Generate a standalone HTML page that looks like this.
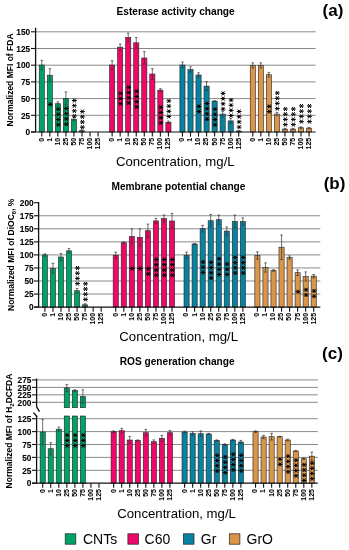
<!DOCTYPE html>
<html><head><meta charset="utf-8"><title>chart</title>
<style>html,body{margin:0;padding:0;background:#fff;width:349px;height:550px;overflow:hidden;font-family:"Liberation Sans", sans-serif;}svg{display:block;will-change:transform}</style>
</head><body>
<svg width="349" height="550" viewBox="0 0 349 550" font-family='"Liberation Sans", sans-serif'><rect x="0" y="0" width="349" height="550" fill="#fff"/>
<line x1="35.6" y1="115.3" x2="315.6" y2="115.3" stroke="#8a8a8a" stroke-width="1"/>
<line x1="35.6" y1="98.6" x2="315.6" y2="98.6" stroke="#8a8a8a" stroke-width="1"/>
<line x1="35.6" y1="81.9" x2="315.6" y2="81.9" stroke="#8a8a8a" stroke-width="1"/>
<line x1="35.6" y1="65.2" x2="315.6" y2="65.2" stroke="#8a8a8a" stroke-width="1"/>
<line x1="35.6" y1="48.5" x2="315.6" y2="48.5" stroke="#8a8a8a" stroke-width="1"/>
<line x1="35.6" y1="31.8" x2="315.6" y2="31.8" stroke="#8a8a8a" stroke-width="1"/>
<rect x="39.22" y="65" width="5.15" height="67" fill="#00a266" stroke="#222" stroke-width="0.6"/>
<path d="M41.8 60.3V69.7M40.5 60.3H43.1M40.5 69.7H43.1" stroke="#333" stroke-width="0.7" fill="none"/>
<rect x="47.26" y="75.2" width="5.15" height="56.8" fill="#00a266" stroke="#222" stroke-width="0.6"/>
<path d="M49.84 68.7V81.7M48.54 68.7H51.14M48.54 81.7H51.14" stroke="#333" stroke-width="0.7" fill="none"/>
<rect x="55.3" y="103.7" width="5.15" height="28.3" fill="#00a266" stroke="#222" stroke-width="0.6"/>
<path d="M57.88 101.8V105.6M56.58 101.8H59.18M56.58 105.6H59.18" stroke="#333" stroke-width="0.7" fill="none"/>
<rect x="63.34" y="98.3" width="5.15" height="33.7" fill="#00a266" stroke="#222" stroke-width="0.6"/>
<path d="M65.92 91.9V104.7M64.62 91.9H67.22M64.62 104.7H67.22" stroke="#333" stroke-width="0.7" fill="none"/>
<rect x="71.38" y="119.2" width="5.15" height="12.8" fill="#00a266" stroke="#222" stroke-width="0.6"/>
<path d="M73.96 117.7V120.7M72.66 117.7H75.26M72.66 120.7H75.26" stroke="#333" stroke-width="0.7" fill="none"/>
<rect x="79.42" y="130.7" width="5.15" height="1.3" fill="#00a266" stroke="#222" stroke-width="0.6"/>
<path d="M82 129.8V131.6M80.7 129.8H83.3M80.7 131.6H83.3" stroke="#333" stroke-width="0.7" fill="none"/>
<rect x="109.55" y="65" width="5.15" height="67" fill="#ee0868" stroke="#222" stroke-width="0.6"/>
<path d="M112.13 60.7V69.3M110.83 60.7H113.43M110.83 69.3H113.43" stroke="#333" stroke-width="0.7" fill="none"/>
<rect x="117.59" y="47.2" width="5.15" height="84.8" fill="#ee0868" stroke="#222" stroke-width="0.6"/>
<path d="M120.17 44V50.4M118.87 44H121.47M118.87 50.4H121.47" stroke="#333" stroke-width="0.7" fill="none"/>
<rect x="125.63" y="37.4" width="5.15" height="94.6" fill="#ee0868" stroke="#222" stroke-width="0.6"/>
<path d="M128.21 33.1V41.7M126.91 33.1H129.51M126.91 41.7H129.51" stroke="#333" stroke-width="0.7" fill="none"/>
<rect x="133.68" y="42.8" width="5.15" height="89.2" fill="#ee0868" stroke="#222" stroke-width="0.6"/>
<path d="M136.25 37.5V48.1M134.95 37.5H137.55M134.95 48.1H137.55" stroke="#333" stroke-width="0.7" fill="none"/>
<rect x="141.72" y="58" width="5.15" height="74" fill="#ee0868" stroke="#222" stroke-width="0.6"/>
<path d="M144.29 51.7V64.3M142.99 51.7H145.59M142.99 64.3H145.59" stroke="#333" stroke-width="0.7" fill="none"/>
<rect x="149.75" y="74" width="5.15" height="58" fill="#ee0868" stroke="#222" stroke-width="0.6"/>
<path d="M152.33 68.7V79.3M151.03 68.7H153.63M151.03 79.3H153.63" stroke="#333" stroke-width="0.7" fill="none"/>
<rect x="157.8" y="90.1" width="5.15" height="41.9" fill="#ee0868" stroke="#222" stroke-width="0.6"/>
<path d="M160.37 88.7V91.5M159.07 88.7H161.67M159.07 91.5H161.67" stroke="#333" stroke-width="0.7" fill="none"/>
<rect x="165.84" y="122.2" width="5.15" height="9.8" fill="#ee0868" stroke="#222" stroke-width="0.6"/>
<path d="M168.41 121.1V123.3M167.11 121.1H169.71M167.11 123.3H169.71" stroke="#333" stroke-width="0.7" fill="none"/>
<rect x="179.88" y="65" width="5.15" height="67" fill="#0782a0" stroke="#222" stroke-width="0.6"/>
<path d="M182.46 62V68M181.16 62H183.76M181.16 68H183.76" stroke="#333" stroke-width="0.7" fill="none"/>
<rect x="187.92" y="69.4" width="5.15" height="62.6" fill="#0782a0" stroke="#222" stroke-width="0.6"/>
<path d="M190.5 66.8V72M189.2 66.8H191.8M189.2 72H191.8" stroke="#333" stroke-width="0.7" fill="none"/>
<rect x="195.96" y="75" width="5.15" height="57" fill="#0782a0" stroke="#222" stroke-width="0.6"/>
<path d="M198.54 72.8V77.2M197.24 72.8H199.84M197.24 77.2H199.84" stroke="#333" stroke-width="0.7" fill="none"/>
<rect x="204" y="86.1" width="5.15" height="45.9" fill="#0782a0" stroke="#222" stroke-width="0.6"/>
<path d="M206.58 81.7V90.5M205.28 81.7H207.88M205.28 90.5H207.88" stroke="#333" stroke-width="0.7" fill="none"/>
<rect x="212.04" y="101.1" width="5.15" height="30.9" fill="#0782a0" stroke="#222" stroke-width="0.6"/>
<path d="M214.62 100.9V101.3M213.32 100.9H215.92M213.32 101.3H215.92" stroke="#333" stroke-width="0.7" fill="none"/>
<rect x="220.08" y="114.1" width="5.15" height="17.9" fill="#0782a0" stroke="#222" stroke-width="0.6"/>
<path d="M222.66 111.4V116.8M221.36 111.4H223.96M221.36 116.8H223.96" stroke="#333" stroke-width="0.7" fill="none"/>
<rect x="228.12" y="120.9" width="5.15" height="11.1" fill="#0782a0" stroke="#222" stroke-width="0.6"/>
<path d="M230.7 118.4V123.4M229.4 118.4H232M229.4 123.4H232" stroke="#333" stroke-width="0.7" fill="none"/>
<rect x="236.16" y="131" width="5.15" height="1" fill="#0782a0" stroke="#222" stroke-width="0.6"/>
<path d="M238.74 130.4V131.6M237.44 130.4H240.04M237.44 131.6H240.04" stroke="#333" stroke-width="0.7" fill="none"/>
<rect x="250.22" y="65.4" width="5.15" height="66.6" fill="#da964a" stroke="#222" stroke-width="0.6"/>
<path d="M252.79 62.8V68M251.49 62.8H254.09M251.49 68H254.09" stroke="#333" stroke-width="0.7" fill="none"/>
<rect x="258.26" y="65.4" width="5.15" height="66.6" fill="#da964a" stroke="#222" stroke-width="0.6"/>
<path d="M260.83 62.8V68M259.53 62.8H262.13M259.53 68H262.13" stroke="#333" stroke-width="0.7" fill="none"/>
<rect x="266.3" y="74.7" width="5.15" height="57.3" fill="#da964a" stroke="#222" stroke-width="0.6"/>
<path d="M268.87 72.4V77M267.57 72.4H270.17M267.57 77H270.17" stroke="#333" stroke-width="0.7" fill="none"/>
<rect x="274.34" y="114.1" width="5.15" height="17.9" fill="#da964a" stroke="#222" stroke-width="0.6"/>
<path d="M276.91 112.4V115.8M275.61 112.4H278.21M275.61 115.8H278.21" stroke="#333" stroke-width="0.7" fill="none"/>
<rect x="282.38" y="129.1" width="5.15" height="2.9" fill="#da964a" stroke="#222" stroke-width="0.6"/>
<path d="M284.95 128.4V129.8M283.65 128.4H286.25M283.65 129.8H286.25" stroke="#333" stroke-width="0.7" fill="none"/>
<rect x="290.42" y="129.1" width="5.15" height="2.9" fill="#da964a" stroke="#222" stroke-width="0.6"/>
<path d="M292.99 128.4V129.8M291.69 128.4H294.29M291.69 129.8H294.29" stroke="#333" stroke-width="0.7" fill="none"/>
<rect x="298.46" y="127.7" width="5.15" height="4.3" fill="#da964a" stroke="#222" stroke-width="0.6"/>
<path d="M301.03 126.9V128.5M299.73 126.9H302.33M299.73 128.5H302.33" stroke="#333" stroke-width="0.7" fill="none"/>
<rect x="306.5" y="128.1" width="5.15" height="3.9" fill="#da964a" stroke="#222" stroke-width="0.6"/>
<path d="M309.07 127.4V128.8M307.77 127.4H310.37M307.77 128.8H310.37" stroke="#333" stroke-width="0.7" fill="none"/>
<path d="M47.84 104.3H52.64M48.94 102.3L51.54 106.3M48.94 106.3L51.54 102.3" stroke="#000" stroke-width="1.0" fill="none"/>
<path d="M55.88 124.7H60.68M56.98 122.7L59.58 126.7M56.98 126.7L59.58 122.7" stroke="#000" stroke-width="1.0" fill="none"/>
<path d="M55.88 119.5H60.68M56.98 117.5L59.58 121.5M56.98 121.5L59.58 117.5" stroke="#000" stroke-width="1.0" fill="none"/>
<path d="M55.88 114.3H60.68M56.98 112.3L59.58 116.3M56.98 116.3L59.58 112.3" stroke="#000" stroke-width="1.0" fill="none"/>
<path d="M55.88 109.1H60.68M56.98 107.1L59.58 111.1M56.98 111.1L59.58 107.1" stroke="#000" stroke-width="1.0" fill="none"/>
<path d="M63.92 124.1H68.72M65.02 122.1L67.62 126.1M65.02 126.1L67.62 122.1" stroke="#000" stroke-width="1.0" fill="none"/>
<path d="M63.92 118.9H68.72M65.02 116.9L67.62 120.9M65.02 120.9L67.62 116.9" stroke="#000" stroke-width="1.0" fill="none"/>
<path d="M63.92 113.7H68.72M65.02 111.7L67.62 115.7M65.02 115.7L67.62 111.7" stroke="#000" stroke-width="1.0" fill="none"/>
<path d="M63.92 108.5H68.72M65.02 106.5L67.62 110.5M65.02 110.5L67.62 106.5" stroke="#000" stroke-width="1.0" fill="none"/>
<path d="M71.96 116.1H76.76M73.06 114.1L75.66 118.1M73.06 118.1L75.66 114.1" stroke="#000" stroke-width="1.0" fill="none"/>
<path d="M71.96 110.9H76.76M73.06 108.9L75.66 112.9M73.06 112.9L75.66 108.9" stroke="#000" stroke-width="1.0" fill="none"/>
<path d="M71.96 105.7H76.76M73.06 103.7L75.66 107.7M73.06 107.7L75.66 103.7" stroke="#000" stroke-width="1.0" fill="none"/>
<path d="M71.96 100.5H76.76M73.06 98.5L75.66 102.5M73.06 102.5L75.66 98.5" stroke="#000" stroke-width="1.0" fill="none"/>
<path d="M80 127.2H84.8M81.1 125.2L83.7 129.2M81.1 129.2L83.7 125.2" stroke="#000" stroke-width="1.0" fill="none"/>
<path d="M80 122H84.8M81.1 120L83.7 124M81.1 124L83.7 120" stroke="#000" stroke-width="1.0" fill="none"/>
<path d="M80 116.8H84.8M81.1 114.8L83.7 118.8M81.1 118.8L83.7 114.8" stroke="#000" stroke-width="1.0" fill="none"/>
<path d="M80 111.6H84.8M81.1 109.6L83.7 113.6M81.1 113.6L83.7 109.6" stroke="#000" stroke-width="1.0" fill="none"/>
<path d="M118.17 103.8H122.97M119.27 101.8L121.87 105.8M119.27 105.8L121.87 101.8" stroke="#000" stroke-width="1.0" fill="none"/>
<path d="M118.17 98.6H122.97M119.27 96.6L121.87 100.6M119.27 100.6L121.87 96.6" stroke="#000" stroke-width="1.0" fill="none"/>
<path d="M118.17 93.4H122.97M119.27 91.4L121.87 95.4M119.27 95.4L121.87 91.4" stroke="#000" stroke-width="1.0" fill="none"/>
<path d="M126.21 102.9H131.01M127.31 100.9L129.91 104.9M127.31 104.9L129.91 100.9" stroke="#000" stroke-width="1.0" fill="none"/>
<path d="M126.21 97.7H131.01M127.31 95.7L129.91 99.7M127.31 99.7L129.91 95.7" stroke="#000" stroke-width="1.0" fill="none"/>
<path d="M126.21 92.5H131.01M127.31 90.5L129.91 94.5M127.31 94.5L129.91 90.5" stroke="#000" stroke-width="1.0" fill="none"/>
<path d="M126.21 87.3H131.01M127.31 85.3L129.91 89.3M127.31 89.3L129.91 85.3" stroke="#000" stroke-width="1.0" fill="none"/>
<path d="M134.25 106.9H139.05M135.35 104.9L137.95 108.9M135.35 108.9L137.95 104.9" stroke="#000" stroke-width="1.0" fill="none"/>
<path d="M134.25 101.7H139.05M135.35 99.7L137.95 103.7M135.35 103.7L137.95 99.7" stroke="#000" stroke-width="1.0" fill="none"/>
<path d="M134.25 96.5H139.05M135.35 94.5L137.95 98.5M135.35 98.5L137.95 94.5" stroke="#000" stroke-width="1.0" fill="none"/>
<path d="M134.25 91.3H139.05M135.35 89.3L137.95 93.3M135.35 93.3L137.95 89.3" stroke="#000" stroke-width="1.0" fill="none"/>
<path d="M158.37 122.9H163.17M159.47 120.9L162.07 124.9M159.47 124.9L162.07 120.9" stroke="#000" stroke-width="1.0" fill="none"/>
<path d="M158.37 117.7H163.17M159.47 115.7L162.07 119.7M159.47 119.7L162.07 115.7" stroke="#000" stroke-width="1.0" fill="none"/>
<path d="M158.37 112.5H163.17M159.47 110.5L162.07 114.5M159.47 114.5L162.07 110.5" stroke="#000" stroke-width="1.0" fill="none"/>
<path d="M158.37 107.3H163.17M159.47 105.3L162.07 109.3M159.47 109.3L162.07 105.3" stroke="#000" stroke-width="1.0" fill="none"/>
<path d="M166.41 116.5H171.21M167.51 114.5L170.11 118.5M167.51 118.5L170.11 114.5" stroke="#000" stroke-width="1.0" fill="none"/>
<path d="M166.41 111.3H171.21M167.51 109.3L170.11 113.3M167.51 113.3L170.11 109.3" stroke="#000" stroke-width="1.0" fill="none"/>
<path d="M166.41 106.1H171.21M167.51 104.1L170.11 108.1M167.51 108.1L170.11 104.1" stroke="#000" stroke-width="1.0" fill="none"/>
<path d="M166.41 100.9H171.21M167.51 98.9L170.11 102.9M167.51 102.9L170.11 98.9" stroke="#000" stroke-width="1.0" fill="none"/>
<path d="M196.54 111.6H201.34M197.64 109.6L200.24 113.6M197.64 113.6L200.24 109.6" stroke="#000" stroke-width="1.0" fill="none"/>
<path d="M196.54 106.4H201.34M197.64 104.4L200.24 108.4M197.64 108.4L200.24 104.4" stroke="#000" stroke-width="1.0" fill="none"/>
<path d="M204.58 119.1H209.38M205.68 117.1L208.28 121.1M205.68 121.1L208.28 117.1" stroke="#000" stroke-width="1.0" fill="none"/>
<path d="M204.58 113.9H209.38M205.68 111.9L208.28 115.9M205.68 115.9L208.28 111.9" stroke="#000" stroke-width="1.0" fill="none"/>
<path d="M204.58 108.7H209.38M205.68 106.7L208.28 110.7M205.68 110.7L208.28 106.7" stroke="#000" stroke-width="1.0" fill="none"/>
<path d="M204.58 103.5H209.38M205.68 101.5L208.28 105.5M205.68 105.5L208.28 101.5" stroke="#000" stroke-width="1.0" fill="none"/>
<path d="M212.62 124.8H217.42M213.72 122.8L216.32 126.8M213.72 126.8L216.32 122.8" stroke="#000" stroke-width="1.0" fill="none"/>
<path d="M212.62 119.6H217.42M213.72 117.6L216.32 121.6M213.72 121.6L216.32 117.6" stroke="#000" stroke-width="1.0" fill="none"/>
<path d="M212.62 114.4H217.42M213.72 112.4L216.32 116.4M213.72 116.4L216.32 112.4" stroke="#000" stroke-width="1.0" fill="none"/>
<path d="M212.62 109.2H217.42M213.72 107.2L216.32 111.2M213.72 111.2L216.32 107.2" stroke="#000" stroke-width="1.0" fill="none"/>
<path d="M220.66 109H225.46M221.76 107L224.36 111M221.76 111L224.36 107" stroke="#000" stroke-width="1.0" fill="none"/>
<path d="M220.66 103.8H225.46M221.76 101.8L224.36 105.8M221.76 105.8L224.36 101.8" stroke="#000" stroke-width="1.0" fill="none"/>
<path d="M220.66 98.6H225.46M221.76 96.6L224.36 100.6M221.76 100.6L224.36 96.6" stroke="#000" stroke-width="1.0" fill="none"/>
<path d="M220.66 93.4H225.46M221.76 91.4L224.36 95.4M221.76 95.4L224.36 91.4" stroke="#000" stroke-width="1.0" fill="none"/>
<path d="M228.7 115.6H233.5M229.8 113.6L232.4 117.6M229.8 117.6L232.4 113.6" stroke="#000" stroke-width="1.0" fill="none"/>
<path d="M228.7 110.4H233.5M229.8 108.4L232.4 112.4M229.8 112.4L232.4 108.4" stroke="#000" stroke-width="1.0" fill="none"/>
<path d="M228.7 105.2H233.5M229.8 103.2L232.4 107.2M229.8 107.2L232.4 103.2" stroke="#000" stroke-width="1.0" fill="none"/>
<path d="M228.7 100H233.5M229.8 98L232.4 102M229.8 102L232.4 98" stroke="#000" stroke-width="1.0" fill="none"/>
<path d="M236.74 127.1H241.54M237.84 125.1L240.44 129.1M237.84 129.1L240.44 125.1" stroke="#000" stroke-width="1.0" fill="none"/>
<path d="M236.74 121.9H241.54M237.84 119.9L240.44 123.9M237.84 123.9L240.44 119.9" stroke="#000" stroke-width="1.0" fill="none"/>
<path d="M236.74 116.7H241.54M237.84 114.7L240.44 118.7M237.84 118.7L240.44 114.7" stroke="#000" stroke-width="1.0" fill="none"/>
<path d="M236.74 111.5H241.54M237.84 109.5L240.44 113.5M237.84 113.5L240.44 109.5" stroke="#000" stroke-width="1.0" fill="none"/>
<path d="M266.87 111.6H271.67M267.97 109.6L270.57 113.6M267.97 113.6L270.57 109.6" stroke="#000" stroke-width="1.0" fill="none"/>
<path d="M266.87 106.4H271.67M267.97 104.4L270.57 108.4M267.97 108.4L270.57 104.4" stroke="#000" stroke-width="1.0" fill="none"/>
<path d="M274.91 108.6H279.71M276.01 106.6L278.61 110.6M276.01 110.6L278.61 106.6" stroke="#000" stroke-width="1.0" fill="none"/>
<path d="M274.91 103.4H279.71M276.01 101.4L278.61 105.4M276.01 105.4L278.61 101.4" stroke="#000" stroke-width="1.0" fill="none"/>
<path d="M274.91 98.2H279.71M276.01 96.2L278.61 100.2M276.01 100.2L278.61 96.2" stroke="#000" stroke-width="1.0" fill="none"/>
<path d="M274.91 93H279.71M276.01 91L278.61 95M276.01 95L278.61 91" stroke="#000" stroke-width="1.0" fill="none"/>
<path d="M282.95 124.6H287.75M284.05 122.6L286.65 126.6M284.05 126.6L286.65 122.6" stroke="#000" stroke-width="1.0" fill="none"/>
<path d="M282.95 119.4H287.75M284.05 117.4L286.65 121.4M284.05 121.4L286.65 117.4" stroke="#000" stroke-width="1.0" fill="none"/>
<path d="M282.95 114.2H287.75M284.05 112.2L286.65 116.2M284.05 116.2L286.65 112.2" stroke="#000" stroke-width="1.0" fill="none"/>
<path d="M282.95 109H287.75M284.05 107L286.65 111M284.05 111L286.65 107" stroke="#000" stroke-width="1.0" fill="none"/>
<path d="M290.99 124.6H295.79M292.09 122.6L294.69 126.6M292.09 126.6L294.69 122.6" stroke="#000" stroke-width="1.0" fill="none"/>
<path d="M290.99 119.4H295.79M292.09 117.4L294.69 121.4M292.09 121.4L294.69 117.4" stroke="#000" stroke-width="1.0" fill="none"/>
<path d="M290.99 114.2H295.79M292.09 112.2L294.69 116.2M292.09 116.2L294.69 112.2" stroke="#000" stroke-width="1.0" fill="none"/>
<path d="M290.99 109H295.79M292.09 107L294.69 111M292.09 111L294.69 107" stroke="#000" stroke-width="1.0" fill="none"/>
<path d="M299.03 121.6H303.83M300.13 119.6L302.73 123.6M300.13 123.6L302.73 119.6" stroke="#000" stroke-width="1.0" fill="none"/>
<path d="M299.03 116.4H303.83M300.13 114.4L302.73 118.4M300.13 118.4L302.73 114.4" stroke="#000" stroke-width="1.0" fill="none"/>
<path d="M299.03 111.2H303.83M300.13 109.2L302.73 113.2M300.13 113.2L302.73 109.2" stroke="#000" stroke-width="1.0" fill="none"/>
<path d="M299.03 106H303.83M300.13 104L302.73 108M300.13 108L302.73 104" stroke="#000" stroke-width="1.0" fill="none"/>
<path d="M307.07 121.6H311.87M308.17 119.6L310.77 123.6M308.17 123.6L310.77 119.6" stroke="#000" stroke-width="1.0" fill="none"/>
<path d="M307.07 116.4H311.87M308.17 114.4L310.77 118.4M308.17 118.4L310.77 114.4" stroke="#000" stroke-width="1.0" fill="none"/>
<path d="M307.07 111.2H311.87M308.17 109.2L310.77 113.2M308.17 113.2L310.77 109.2" stroke="#000" stroke-width="1.0" fill="none"/>
<path d="M307.07 106H311.87M308.17 104L310.77 108M308.17 108L310.77 104" stroke="#000" stroke-width="1.0" fill="none"/>
<line x1="31" y1="132" x2="315.6" y2="132" stroke="#111" stroke-width="1.2"/>
<line x1="35.6" y1="27.7" x2="35.6" y2="132" stroke="#111" stroke-width="1.3"/>
<line x1="31" y1="132" x2="35.6" y2="132" stroke="#111" stroke-width="1.1"/>
<text x="30.2" y="135.2" font-size="8.3" font-weight="bold" text-anchor="end" fill="#000" stroke="#000" stroke-width="0.08">0</text>
<line x1="31" y1="115.3" x2="35.6" y2="115.3" stroke="#111" stroke-width="1.1"/>
<text x="30.2" y="118.5" font-size="8.3" font-weight="bold" text-anchor="end" fill="#000" stroke="#000" stroke-width="0.08">25</text>
<line x1="31" y1="98.6" x2="35.6" y2="98.6" stroke="#111" stroke-width="1.1"/>
<text x="30.2" y="101.8" font-size="8.3" font-weight="bold" text-anchor="end" fill="#000" stroke="#000" stroke-width="0.08">50</text>
<line x1="31" y1="81.9" x2="35.6" y2="81.9" stroke="#111" stroke-width="1.1"/>
<text x="30.2" y="85.1" font-size="8.3" font-weight="bold" text-anchor="end" fill="#000" stroke="#000" stroke-width="0.08">75</text>
<line x1="31" y1="65.2" x2="35.6" y2="65.2" stroke="#111" stroke-width="1.1"/>
<text x="30.2" y="68.4" font-size="8.3" font-weight="bold" text-anchor="end" fill="#000" stroke="#000" stroke-width="0.08">100</text>
<line x1="31" y1="48.5" x2="35.6" y2="48.5" stroke="#111" stroke-width="1.1"/>
<text x="30.2" y="51.7" font-size="8.3" font-weight="bold" text-anchor="end" fill="#000" stroke="#000" stroke-width="0.08">125</text>
<line x1="31" y1="31.8" x2="35.6" y2="31.8" stroke="#111" stroke-width="1.1"/>
<text x="30.2" y="35" font-size="8.3" font-weight="bold" text-anchor="end" fill="#000" stroke="#000" stroke-width="0.08">150</text>
<line x1="41.8" y1="132" x2="41.8" y2="136.6" stroke="#111" stroke-width="1.1"/>
<text x="43.7" y="137.8" font-size="7" font-weight="bold" text-anchor="end" transform="rotate(-90 43.7 137.8)" fill="#000" stroke="#000" stroke-width="0.06">0</text>
<line x1="49.84" y1="132" x2="49.84" y2="136.6" stroke="#111" stroke-width="1.1"/>
<text x="51.74" y="137.8" font-size="7" font-weight="bold" text-anchor="end" transform="rotate(-90 51.74 137.8)" fill="#000" stroke="#000" stroke-width="0.06">1</text>
<line x1="57.88" y1="132" x2="57.88" y2="136.6" stroke="#111" stroke-width="1.1"/>
<text x="59.78" y="137.8" font-size="7" font-weight="bold" text-anchor="end" transform="rotate(-90 59.78 137.8)" fill="#000" stroke="#000" stroke-width="0.06">10</text>
<line x1="65.92" y1="132" x2="65.92" y2="136.6" stroke="#111" stroke-width="1.1"/>
<text x="67.82" y="137.8" font-size="7" font-weight="bold" text-anchor="end" transform="rotate(-90 67.82 137.8)" fill="#000" stroke="#000" stroke-width="0.06">25</text>
<line x1="73.96" y1="132" x2="73.96" y2="136.6" stroke="#111" stroke-width="1.1"/>
<text x="75.86" y="137.8" font-size="7" font-weight="bold" text-anchor="end" transform="rotate(-90 75.86 137.8)" fill="#000" stroke="#000" stroke-width="0.06">50</text>
<line x1="82" y1="132" x2="82" y2="136.6" stroke="#111" stroke-width="1.1"/>
<text x="83.9" y="137.8" font-size="7" font-weight="bold" text-anchor="end" transform="rotate(-90 83.9 137.8)" fill="#000" stroke="#000" stroke-width="0.06">75</text>
<line x1="90.04" y1="132" x2="90.04" y2="136.6" stroke="#111" stroke-width="1.1"/>
<text x="91.94" y="137.8" font-size="7" font-weight="bold" text-anchor="end" transform="rotate(-90 91.94 137.8)" fill="#000" stroke="#000" stroke-width="0.06">100</text>
<line x1="98.08" y1="132" x2="98.08" y2="136.6" stroke="#111" stroke-width="1.1"/>
<text x="99.98" y="137.8" font-size="7" font-weight="bold" text-anchor="end" transform="rotate(-90 99.98 137.8)" fill="#000" stroke="#000" stroke-width="0.06">125</text>
<line x1="112.13" y1="132" x2="112.13" y2="136.6" stroke="#111" stroke-width="1.1"/>
<text x="114.03" y="137.8" font-size="7" font-weight="bold" text-anchor="end" transform="rotate(-90 114.03 137.8)" fill="#000" stroke="#000" stroke-width="0.06">0</text>
<line x1="120.17" y1="132" x2="120.17" y2="136.6" stroke="#111" stroke-width="1.1"/>
<text x="122.07" y="137.8" font-size="7" font-weight="bold" text-anchor="end" transform="rotate(-90 122.07 137.8)" fill="#000" stroke="#000" stroke-width="0.06">1</text>
<line x1="128.21" y1="132" x2="128.21" y2="136.6" stroke="#111" stroke-width="1.1"/>
<text x="130.11" y="137.8" font-size="7" font-weight="bold" text-anchor="end" transform="rotate(-90 130.11 137.8)" fill="#000" stroke="#000" stroke-width="0.06">10</text>
<line x1="136.25" y1="132" x2="136.25" y2="136.6" stroke="#111" stroke-width="1.1"/>
<text x="138.15" y="137.8" font-size="7" font-weight="bold" text-anchor="end" transform="rotate(-90 138.15 137.8)" fill="#000" stroke="#000" stroke-width="0.06">25</text>
<line x1="144.29" y1="132" x2="144.29" y2="136.6" stroke="#111" stroke-width="1.1"/>
<text x="146.19" y="137.8" font-size="7" font-weight="bold" text-anchor="end" transform="rotate(-90 146.19 137.8)" fill="#000" stroke="#000" stroke-width="0.06">50</text>
<line x1="152.33" y1="132" x2="152.33" y2="136.6" stroke="#111" stroke-width="1.1"/>
<text x="154.23" y="137.8" font-size="7" font-weight="bold" text-anchor="end" transform="rotate(-90 154.23 137.8)" fill="#000" stroke="#000" stroke-width="0.06">75</text>
<line x1="160.37" y1="132" x2="160.37" y2="136.6" stroke="#111" stroke-width="1.1"/>
<text x="162.27" y="137.8" font-size="7" font-weight="bold" text-anchor="end" transform="rotate(-90 162.27 137.8)" fill="#000" stroke="#000" stroke-width="0.06">100</text>
<line x1="168.41" y1="132" x2="168.41" y2="136.6" stroke="#111" stroke-width="1.1"/>
<text x="170.31" y="137.8" font-size="7" font-weight="bold" text-anchor="end" transform="rotate(-90 170.31 137.8)" fill="#000" stroke="#000" stroke-width="0.06">125</text>
<line x1="182.46" y1="132" x2="182.46" y2="136.6" stroke="#111" stroke-width="1.1"/>
<text x="184.36" y="137.8" font-size="7" font-weight="bold" text-anchor="end" transform="rotate(-90 184.36 137.8)" fill="#000" stroke="#000" stroke-width="0.06">0</text>
<line x1="190.5" y1="132" x2="190.5" y2="136.6" stroke="#111" stroke-width="1.1"/>
<text x="192.4" y="137.8" font-size="7" font-weight="bold" text-anchor="end" transform="rotate(-90 192.4 137.8)" fill="#000" stroke="#000" stroke-width="0.06">1</text>
<line x1="198.54" y1="132" x2="198.54" y2="136.6" stroke="#111" stroke-width="1.1"/>
<text x="200.44" y="137.8" font-size="7" font-weight="bold" text-anchor="end" transform="rotate(-90 200.44 137.8)" fill="#000" stroke="#000" stroke-width="0.06">10</text>
<line x1="206.58" y1="132" x2="206.58" y2="136.6" stroke="#111" stroke-width="1.1"/>
<text x="208.48" y="137.8" font-size="7" font-weight="bold" text-anchor="end" transform="rotate(-90 208.48 137.8)" fill="#000" stroke="#000" stroke-width="0.06">25</text>
<line x1="214.62" y1="132" x2="214.62" y2="136.6" stroke="#111" stroke-width="1.1"/>
<text x="216.52" y="137.8" font-size="7" font-weight="bold" text-anchor="end" transform="rotate(-90 216.52 137.8)" fill="#000" stroke="#000" stroke-width="0.06">50</text>
<line x1="222.66" y1="132" x2="222.66" y2="136.6" stroke="#111" stroke-width="1.1"/>
<text x="224.56" y="137.8" font-size="7" font-weight="bold" text-anchor="end" transform="rotate(-90 224.56 137.8)" fill="#000" stroke="#000" stroke-width="0.06">75</text>
<line x1="230.7" y1="132" x2="230.7" y2="136.6" stroke="#111" stroke-width="1.1"/>
<text x="232.6" y="137.8" font-size="7" font-weight="bold" text-anchor="end" transform="rotate(-90 232.6 137.8)" fill="#000" stroke="#000" stroke-width="0.06">100</text>
<line x1="238.74" y1="132" x2="238.74" y2="136.6" stroke="#111" stroke-width="1.1"/>
<text x="240.64" y="137.8" font-size="7" font-weight="bold" text-anchor="end" transform="rotate(-90 240.64 137.8)" fill="#000" stroke="#000" stroke-width="0.06">125</text>
<line x1="252.79" y1="132" x2="252.79" y2="136.6" stroke="#111" stroke-width="1.1"/>
<text x="254.69" y="137.8" font-size="7" font-weight="bold" text-anchor="end" transform="rotate(-90 254.69 137.8)" fill="#000" stroke="#000" stroke-width="0.06">0</text>
<line x1="260.83" y1="132" x2="260.83" y2="136.6" stroke="#111" stroke-width="1.1"/>
<text x="262.73" y="137.8" font-size="7" font-weight="bold" text-anchor="end" transform="rotate(-90 262.73 137.8)" fill="#000" stroke="#000" stroke-width="0.06">1</text>
<line x1="268.87" y1="132" x2="268.87" y2="136.6" stroke="#111" stroke-width="1.1"/>
<text x="270.77" y="137.8" font-size="7" font-weight="bold" text-anchor="end" transform="rotate(-90 270.77 137.8)" fill="#000" stroke="#000" stroke-width="0.06">10</text>
<line x1="276.91" y1="132" x2="276.91" y2="136.6" stroke="#111" stroke-width="1.1"/>
<text x="278.81" y="137.8" font-size="7" font-weight="bold" text-anchor="end" transform="rotate(-90 278.81 137.8)" fill="#000" stroke="#000" stroke-width="0.06">25</text>
<line x1="284.95" y1="132" x2="284.95" y2="136.6" stroke="#111" stroke-width="1.1"/>
<text x="286.85" y="137.8" font-size="7" font-weight="bold" text-anchor="end" transform="rotate(-90 286.85 137.8)" fill="#000" stroke="#000" stroke-width="0.06">50</text>
<line x1="292.99" y1="132" x2="292.99" y2="136.6" stroke="#111" stroke-width="1.1"/>
<text x="294.89" y="137.8" font-size="7" font-weight="bold" text-anchor="end" transform="rotate(-90 294.89 137.8)" fill="#000" stroke="#000" stroke-width="0.06">75</text>
<line x1="301.03" y1="132" x2="301.03" y2="136.6" stroke="#111" stroke-width="1.1"/>
<text x="302.93" y="137.8" font-size="7" font-weight="bold" text-anchor="end" transform="rotate(-90 302.93 137.8)" fill="#000" stroke="#000" stroke-width="0.06">100</text>
<line x1="309.07" y1="132" x2="309.07" y2="136.6" stroke="#111" stroke-width="1.1"/>
<text x="310.97" y="137.8" font-size="7" font-weight="bold" text-anchor="end" transform="rotate(-90 310.97 137.8)" fill="#000" stroke="#000" stroke-width="0.06">125</text>
<text x="116.5" y="14.8" font-size="10.15" font-weight="bold" text-anchor="start" fill="#000">Esterase activity change</text>
<text x="322.6" y="15.5" font-size="17" font-weight="bold" text-anchor="start" fill="#000">(a)</text>
<text x="12.8" y="80" font-size="8.5" font-weight="bold" text-anchor="middle" transform="rotate(-90 12.8 80)">Normalized MFI of FDA</text>
<text x="115.9" y="166.2" font-size="13.2" text-anchor="start" fill="#000">Concentration, mg/L</text>
<line x1="38.6" y1="294.05" x2="320.3" y2="294.05" stroke="#8a8a8a" stroke-width="1"/>
<line x1="38.6" y1="281" x2="320.3" y2="281" stroke="#8a8a8a" stroke-width="1"/>
<line x1="38.6" y1="267.95" x2="320.3" y2="267.95" stroke="#8a8a8a" stroke-width="1"/>
<line x1="38.6" y1="254.9" x2="320.3" y2="254.9" stroke="#8a8a8a" stroke-width="1"/>
<line x1="38.6" y1="241.85" x2="320.3" y2="241.85" stroke="#8a8a8a" stroke-width="1"/>
<line x1="38.6" y1="228.8" x2="320.3" y2="228.8" stroke="#8a8a8a" stroke-width="1"/>
<line x1="38.6" y1="215.75" x2="320.3" y2="215.75" stroke="#8a8a8a" stroke-width="1"/>
<rect x="42.32" y="255" width="5.15" height="52.1" fill="#00a266" stroke="#222" stroke-width="0.6"/>
<path d="M44.9 253.8V256.2M43.6 253.8H46.2M43.6 256.2H46.2" stroke="#333" stroke-width="0.7" fill="none"/>
<rect x="50.36" y="268.3" width="5.15" height="38.8" fill="#00a266" stroke="#222" stroke-width="0.6"/>
<path d="M52.94 263.4V273.2M51.64 263.4H54.24M51.64 273.2H54.24" stroke="#333" stroke-width="0.7" fill="none"/>
<rect x="58.4" y="257" width="5.15" height="50.1" fill="#00a266" stroke="#222" stroke-width="0.6"/>
<path d="M60.98 253.4V260.6M59.68 253.4H62.28M59.68 260.6H62.28" stroke="#333" stroke-width="0.7" fill="none"/>
<rect x="66.44" y="250.8" width="5.15" height="56.3" fill="#00a266" stroke="#222" stroke-width="0.6"/>
<path d="M69.02 248.4V253.2M67.72 248.4H70.32M67.72 253.2H70.32" stroke="#333" stroke-width="0.7" fill="none"/>
<rect x="74.48" y="290.7" width="5.15" height="16.4" fill="#00a266" stroke="#222" stroke-width="0.6"/>
<path d="M77.06 288.5V292.9M75.76 288.5H78.36M75.76 292.9H78.36" stroke="#333" stroke-width="0.7" fill="none"/>
<rect x="82.52" y="304.8" width="5.15" height="2.3" fill="#00a266" stroke="#222" stroke-width="0.6"/>
<path d="M85.1 303.7V305.9M83.8 303.7H86.4M83.8 305.9H86.4" stroke="#333" stroke-width="0.7" fill="none"/>
<rect x="113.17" y="255.2" width="5.15" height="51.9" fill="#ee0868" stroke="#222" stroke-width="0.6"/>
<path d="M115.74 252.1V258.3M114.44 252.1H117.04M114.44 258.3H117.04" stroke="#333" stroke-width="0.7" fill="none"/>
<rect x="121.2" y="242.7" width="5.15" height="64.4" fill="#ee0868" stroke="#222" stroke-width="0.6"/>
<path d="M123.78 241.8V243.6M122.48 241.8H125.08M122.48 243.6H125.08" stroke="#333" stroke-width="0.7" fill="none"/>
<rect x="129.25" y="236.5" width="5.15" height="70.6" fill="#ee0868" stroke="#222" stroke-width="0.6"/>
<path d="M131.82 228.9V244.1M130.52 228.9H133.12M130.52 244.1H133.12" stroke="#333" stroke-width="0.7" fill="none"/>
<rect x="137.29" y="237.3" width="5.15" height="69.8" fill="#ee0868" stroke="#222" stroke-width="0.6"/>
<path d="M139.86 228.9V245.7M138.56 228.9H141.16M138.56 245.7H141.16" stroke="#333" stroke-width="0.7" fill="none"/>
<rect x="145.33" y="230.7" width="5.15" height="76.4" fill="#ee0868" stroke="#222" stroke-width="0.6"/>
<path d="M147.9 224.1V237.3M146.6 224.1H149.2M146.6 237.3H149.2" stroke="#333" stroke-width="0.7" fill="none"/>
<rect x="153.37" y="220.9" width="5.15" height="86.2" fill="#ee0868" stroke="#222" stroke-width="0.6"/>
<path d="M155.94 218.4V223.4M154.64 218.4H157.24M154.64 223.4H157.24" stroke="#333" stroke-width="0.7" fill="none"/>
<rect x="161.41" y="218.5" width="5.15" height="88.6" fill="#ee0868" stroke="#222" stroke-width="0.6"/>
<path d="M163.98 215V222M162.68 215H165.28M162.68 222H165.28" stroke="#333" stroke-width="0.7" fill="none"/>
<rect x="169.45" y="221" width="5.15" height="86.1" fill="#ee0868" stroke="#222" stroke-width="0.6"/>
<path d="M172.02 213.4V228.6M170.72 213.4H173.32M170.72 228.6H173.32" stroke="#333" stroke-width="0.7" fill="none"/>
<rect x="184.01" y="255.2" width="5.15" height="51.9" fill="#0782a0" stroke="#222" stroke-width="0.6"/>
<path d="M186.58 252.1V258.3M185.28 252.1H187.88M185.28 258.3H187.88" stroke="#333" stroke-width="0.7" fill="none"/>
<rect x="192.05" y="244" width="5.15" height="63.1" fill="#0782a0" stroke="#222" stroke-width="0.6"/>
<path d="M194.62 243.4V244.6M193.32 243.4H195.92M193.32 244.6H195.92" stroke="#333" stroke-width="0.7" fill="none"/>
<rect x="200.09" y="228.7" width="5.15" height="78.4" fill="#0782a0" stroke="#222" stroke-width="0.6"/>
<path d="M202.66 225.4V232M201.36 225.4H203.96M201.36 232H203.96" stroke="#333" stroke-width="0.7" fill="none"/>
<rect x="208.13" y="220.7" width="5.15" height="86.4" fill="#0782a0" stroke="#222" stroke-width="0.6"/>
<path d="M210.7 214.4V227M209.4 214.4H212M209.4 227H212" stroke="#333" stroke-width="0.7" fill="none"/>
<rect x="216.17" y="219.7" width="5.15" height="87.4" fill="#0782a0" stroke="#222" stroke-width="0.6"/>
<path d="M218.74 215V224.4M217.44 215H220.04M217.44 224.4H220.04" stroke="#333" stroke-width="0.7" fill="none"/>
<rect x="224.21" y="231.1" width="5.15" height="76" fill="#0782a0" stroke="#222" stroke-width="0.6"/>
<path d="M226.78 226.9V235.3M225.48 226.9H228.08M225.48 235.3H228.08" stroke="#333" stroke-width="0.7" fill="none"/>
<rect x="232.25" y="221.5" width="5.15" height="85.6" fill="#0782a0" stroke="#222" stroke-width="0.6"/>
<path d="M234.82 215V228M233.52 215H236.12M233.52 228H236.12" stroke="#333" stroke-width="0.7" fill="none"/>
<rect x="240.29" y="221.5" width="5.15" height="85.6" fill="#0782a0" stroke="#222" stroke-width="0.6"/>
<path d="M242.86 217.9V225.1M241.56 217.9H244.16M241.56 225.1H244.16" stroke="#333" stroke-width="0.7" fill="none"/>
<rect x="254.85" y="255.5" width="5.15" height="51.6" fill="#da964a" stroke="#222" stroke-width="0.6"/>
<path d="M257.42 251.9V259.1M256.12 251.9H258.72M256.12 259.1H258.72" stroke="#333" stroke-width="0.7" fill="none"/>
<rect x="262.89" y="267.5" width="5.15" height="39.6" fill="#da964a" stroke="#222" stroke-width="0.6"/>
<path d="M265.46 262.9V272.1M264.16 262.9H266.76M264.16 272.1H266.76" stroke="#333" stroke-width="0.7" fill="none"/>
<rect x="270.93" y="270.5" width="5.15" height="36.6" fill="#da964a" stroke="#222" stroke-width="0.6"/>
<path d="M273.5 269.7V271.3M272.2 269.7H274.8M272.2 271.3H274.8" stroke="#333" stroke-width="0.7" fill="none"/>
<rect x="278.97" y="247.2" width="5.15" height="59.9" fill="#da964a" stroke="#222" stroke-width="0.6"/>
<path d="M281.54 235V259.4M280.24 235H282.84M280.24 259.4H282.84" stroke="#333" stroke-width="0.7" fill="none"/>
<rect x="287.01" y="257.5" width="5.15" height="49.6" fill="#da964a" stroke="#222" stroke-width="0.6"/>
<path d="M289.58 255.9V259.1M288.28 255.9H290.88M288.28 259.1H290.88" stroke="#333" stroke-width="0.7" fill="none"/>
<rect x="295.05" y="272.7" width="5.15" height="34.4" fill="#da964a" stroke="#222" stroke-width="0.6"/>
<path d="M297.62 269.9V275.5M296.32 269.9H298.92M296.32 275.5H298.92" stroke="#333" stroke-width="0.7" fill="none"/>
<rect x="303.09" y="276.5" width="5.15" height="30.6" fill="#da964a" stroke="#222" stroke-width="0.6"/>
<path d="M305.66 271.9V281.1M304.36 271.9H306.96M304.36 281.1H306.96" stroke="#333" stroke-width="0.7" fill="none"/>
<rect x="311.12" y="276.1" width="5.15" height="31" fill="#da964a" stroke="#222" stroke-width="0.6"/>
<path d="M313.7 274.5V277.7M312.4 274.5H315M312.4 277.7H315" stroke="#333" stroke-width="0.7" fill="none"/>
<path d="M75.06 283.6H79.86M76.16 281.6L78.76 285.6M76.16 285.6L78.76 281.6" stroke="#000" stroke-width="1.0" fill="none"/>
<path d="M75.06 278.4H79.86M76.16 276.4L78.76 280.4M76.16 280.4L78.76 276.4" stroke="#000" stroke-width="1.0" fill="none"/>
<path d="M75.06 273.2H79.86M76.16 271.2L78.76 275.2M76.16 275.2L78.76 271.2" stroke="#000" stroke-width="1.0" fill="none"/>
<path d="M75.06 268H79.86M76.16 266L78.76 270M76.16 270L78.76 266" stroke="#000" stroke-width="1.0" fill="none"/>
<path d="M83.1 299.4H87.9M84.2 297.4L86.8 301.4M84.2 301.4L86.8 297.4" stroke="#000" stroke-width="1.0" fill="none"/>
<path d="M83.1 294.2H87.9M84.2 292.2L86.8 296.2M84.2 296.2L86.8 292.2" stroke="#000" stroke-width="1.0" fill="none"/>
<path d="M83.1 289H87.9M84.2 287L86.8 291M84.2 291L86.8 287" stroke="#000" stroke-width="1.0" fill="none"/>
<path d="M83.1 283.8H87.9M84.2 281.8L86.8 285.8M84.2 285.8L86.8 281.8" stroke="#000" stroke-width="1.0" fill="none"/>
<path d="M129.82 268.5H134.62M130.92 266.5L133.52 270.5M130.92 270.5L133.52 266.5" stroke="#000" stroke-width="1.0" fill="none"/>
<path d="M137.86 268.5H142.66M138.96 266.5L141.56 270.5M138.96 270.5L141.56 266.5" stroke="#000" stroke-width="1.0" fill="none"/>
<path d="M145.9 273.9H150.7M147 271.9L149.6 275.9M147 275.9L149.6 271.9" stroke="#000" stroke-width="1.0" fill="none"/>
<path d="M145.9 268.7H150.7M147 266.7L149.6 270.7M147 270.7L149.6 266.7" stroke="#000" stroke-width="1.0" fill="none"/>
<path d="M153.94 275.2H158.74M155.04 273.2L157.64 277.2M155.04 277.2L157.64 273.2" stroke="#000" stroke-width="1.0" fill="none"/>
<path d="M153.94 270H158.74M155.04 268L157.64 272M155.04 272L157.64 268" stroke="#000" stroke-width="1.0" fill="none"/>
<path d="M153.94 264.8H158.74M155.04 262.8L157.64 266.8M155.04 266.8L157.64 262.8" stroke="#000" stroke-width="1.0" fill="none"/>
<path d="M153.94 259.6H158.74M155.04 257.6L157.64 261.6M155.04 261.6L157.64 257.6" stroke="#000" stroke-width="1.0" fill="none"/>
<path d="M161.98 275.2H166.78M163.08 273.2L165.68 277.2M163.08 277.2L165.68 273.2" stroke="#000" stroke-width="1.0" fill="none"/>
<path d="M161.98 270H166.78M163.08 268L165.68 272M163.08 272L165.68 268" stroke="#000" stroke-width="1.0" fill="none"/>
<path d="M161.98 264.8H166.78M163.08 262.8L165.68 266.8M163.08 266.8L165.68 262.8" stroke="#000" stroke-width="1.0" fill="none"/>
<path d="M161.98 259.6H166.78M163.08 257.6L165.68 261.6M163.08 261.6L165.68 257.6" stroke="#000" stroke-width="1.0" fill="none"/>
<path d="M170.02 275.2H174.82M171.12 273.2L173.72 277.2M171.12 277.2L173.72 273.2" stroke="#000" stroke-width="1.0" fill="none"/>
<path d="M170.02 270H174.82M171.12 268L173.72 272M171.12 272L173.72 268" stroke="#000" stroke-width="1.0" fill="none"/>
<path d="M170.02 264.8H174.82M171.12 262.8L173.72 266.8M171.12 266.8L173.72 262.8" stroke="#000" stroke-width="1.0" fill="none"/>
<path d="M170.02 259.6H174.82M171.12 257.6L173.72 261.6M171.12 261.6L173.72 257.6" stroke="#000" stroke-width="1.0" fill="none"/>
<path d="M200.66 272.4H205.46M201.76 270.4L204.36 274.4M201.76 274.4L204.36 270.4" stroke="#000" stroke-width="1.0" fill="none"/>
<path d="M200.66 267.2H205.46M201.76 265.2L204.36 269.2M201.76 269.2L204.36 265.2" stroke="#000" stroke-width="1.0" fill="none"/>
<path d="M200.66 262H205.46M201.76 260L204.36 264M201.76 264L204.36 260" stroke="#000" stroke-width="1.0" fill="none"/>
<path d="M208.7 278H213.5M209.8 276L212.4 280M209.8 280L212.4 276" stroke="#000" stroke-width="1.0" fill="none"/>
<path d="M208.7 272.8H213.5M209.8 270.8L212.4 274.8M209.8 274.8L212.4 270.8" stroke="#000" stroke-width="1.0" fill="none"/>
<path d="M208.7 267.6H213.5M209.8 265.6L212.4 269.6M209.8 269.6L212.4 265.6" stroke="#000" stroke-width="1.0" fill="none"/>
<path d="M208.7 262.4H213.5M209.8 260.4L212.4 264.4M209.8 264.4L212.4 260.4" stroke="#000" stroke-width="1.0" fill="none"/>
<path d="M216.74 274.5H221.54M217.84 272.5L220.44 276.5M217.84 276.5L220.44 272.5" stroke="#000" stroke-width="1.0" fill="none"/>
<path d="M216.74 269.3H221.54M217.84 267.3L220.44 271.3M217.84 271.3L220.44 267.3" stroke="#000" stroke-width="1.0" fill="none"/>
<path d="M216.74 264.1H221.54M217.84 262.1L220.44 266.1M217.84 266.1L220.44 262.1" stroke="#000" stroke-width="1.0" fill="none"/>
<path d="M216.74 258.9H221.54M217.84 256.9L220.44 260.9M217.84 260.9L220.44 256.9" stroke="#000" stroke-width="1.0" fill="none"/>
<path d="M224.78 274.4H229.58M225.88 272.4L228.48 276.4M225.88 276.4L228.48 272.4" stroke="#000" stroke-width="1.0" fill="none"/>
<path d="M224.78 269.2H229.58M225.88 267.2L228.48 271.2M225.88 271.2L228.48 267.2" stroke="#000" stroke-width="1.0" fill="none"/>
<path d="M224.78 264H229.58M225.88 262L228.48 266M225.88 266L228.48 262" stroke="#000" stroke-width="1.0" fill="none"/>
<path d="M232.82 273H237.62M233.92 271L236.52 275M233.92 275L236.52 271" stroke="#000" stroke-width="1.0" fill="none"/>
<path d="M232.82 267.8H237.62M233.92 265.8L236.52 269.8M233.92 269.8L236.52 265.8" stroke="#000" stroke-width="1.0" fill="none"/>
<path d="M232.82 262.6H237.62M233.92 260.6L236.52 264.6M233.92 264.6L236.52 260.6" stroke="#000" stroke-width="1.0" fill="none"/>
<path d="M232.82 257.4H237.62M233.92 255.4L236.52 259.4M233.92 259.4L236.52 255.4" stroke="#000" stroke-width="1.0" fill="none"/>
<path d="M240.86 273H245.66M241.96 271L244.56 275M241.96 275L244.56 271" stroke="#000" stroke-width="1.0" fill="none"/>
<path d="M240.86 267.8H245.66M241.96 265.8L244.56 269.8M241.96 269.8L244.56 265.8" stroke="#000" stroke-width="1.0" fill="none"/>
<path d="M240.86 262.6H245.66M241.96 260.6L244.56 264.6M241.96 264.6L244.56 260.6" stroke="#000" stroke-width="1.0" fill="none"/>
<path d="M240.86 257.4H245.66M241.96 255.4L244.56 259.4M241.96 259.4L244.56 255.4" stroke="#000" stroke-width="1.0" fill="none"/>
<path d="M295.62 291.8H300.42M296.72 289.8L299.32 293.8M296.72 293.8L299.32 289.8" stroke="#000" stroke-width="1.0" fill="none"/>
<path d="M303.66 295H308.46M304.76 293L307.36 297M304.76 297L307.36 293" stroke="#000" stroke-width="1.0" fill="none"/>
<path d="M303.66 289.8H308.46M304.76 287.8L307.36 291.8M304.76 291.8L307.36 287.8" stroke="#000" stroke-width="1.0" fill="none"/>
<path d="M311.7 296.2H316.5M312.8 294.2L315.4 298.2M312.8 298.2L315.4 294.2" stroke="#000" stroke-width="1.0" fill="none"/>
<path d="M311.7 291H316.5M312.8 289L315.4 293M312.8 293L315.4 289" stroke="#000" stroke-width="1.0" fill="none"/>
<line x1="34" y1="307.1" x2="320.3" y2="307.1" stroke="#111" stroke-width="1.2"/>
<line x1="38.6" y1="202.1" x2="38.6" y2="307.1" stroke="#111" stroke-width="1.3"/>
<line x1="34" y1="307.1" x2="38.6" y2="307.1" stroke="#111" stroke-width="1.1"/>
<text x="33.7" y="310.3" font-size="8.3" font-weight="bold" text-anchor="end" fill="#000" stroke="#000" stroke-width="0.08">0</text>
<line x1="34" y1="294.05" x2="38.6" y2="294.05" stroke="#111" stroke-width="1.1"/>
<text x="33.7" y="297.25" font-size="8.3" font-weight="bold" text-anchor="end" fill="#000" stroke="#000" stroke-width="0.08">25</text>
<line x1="34" y1="281" x2="38.6" y2="281" stroke="#111" stroke-width="1.1"/>
<text x="33.7" y="284.2" font-size="8.3" font-weight="bold" text-anchor="end" fill="#000" stroke="#000" stroke-width="0.08">50</text>
<line x1="34" y1="267.95" x2="38.6" y2="267.95" stroke="#111" stroke-width="1.1"/>
<text x="33.7" y="271.15" font-size="8.3" font-weight="bold" text-anchor="end" fill="#000" stroke="#000" stroke-width="0.08">75</text>
<line x1="34" y1="254.9" x2="38.6" y2="254.9" stroke="#111" stroke-width="1.1"/>
<text x="33.7" y="258.1" font-size="8.3" font-weight="bold" text-anchor="end" fill="#000" stroke="#000" stroke-width="0.08">100</text>
<line x1="34" y1="241.85" x2="38.6" y2="241.85" stroke="#111" stroke-width="1.1"/>
<text x="33.7" y="245.05" font-size="8.3" font-weight="bold" text-anchor="end" fill="#000" stroke="#000" stroke-width="0.08">125</text>
<line x1="34" y1="228.8" x2="38.6" y2="228.8" stroke="#111" stroke-width="1.1"/>
<text x="33.7" y="232" font-size="8.3" font-weight="bold" text-anchor="end" fill="#000" stroke="#000" stroke-width="0.08">150</text>
<line x1="34" y1="215.75" x2="38.6" y2="215.75" stroke="#111" stroke-width="1.1"/>
<text x="33.7" y="218.95" font-size="8.3" font-weight="bold" text-anchor="end" fill="#000" stroke="#000" stroke-width="0.08">175</text>
<line x1="34" y1="202.7" x2="38.6" y2="202.7" stroke="#111" stroke-width="1.1"/>
<text x="33.7" y="205.9" font-size="8.3" font-weight="bold" text-anchor="end" fill="#000" stroke="#000" stroke-width="0.08">200</text>
<line x1="44.9" y1="307.1" x2="44.9" y2="311.7" stroke="#111" stroke-width="1.1"/>
<text x="46.8" y="312.9" font-size="7" font-weight="bold" text-anchor="end" transform="rotate(-90 46.8 312.9)" fill="#000" stroke="#000" stroke-width="0.06">0</text>
<line x1="52.94" y1="307.1" x2="52.94" y2="311.7" stroke="#111" stroke-width="1.1"/>
<text x="54.84" y="312.9" font-size="7" font-weight="bold" text-anchor="end" transform="rotate(-90 54.84 312.9)" fill="#000" stroke="#000" stroke-width="0.06">1</text>
<line x1="60.98" y1="307.1" x2="60.98" y2="311.7" stroke="#111" stroke-width="1.1"/>
<text x="62.88" y="312.9" font-size="7" font-weight="bold" text-anchor="end" transform="rotate(-90 62.88 312.9)" fill="#000" stroke="#000" stroke-width="0.06">10</text>
<line x1="69.02" y1="307.1" x2="69.02" y2="311.7" stroke="#111" stroke-width="1.1"/>
<text x="70.92" y="312.9" font-size="7" font-weight="bold" text-anchor="end" transform="rotate(-90 70.92 312.9)" fill="#000" stroke="#000" stroke-width="0.06">25</text>
<line x1="77.06" y1="307.1" x2="77.06" y2="311.7" stroke="#111" stroke-width="1.1"/>
<text x="78.96" y="312.9" font-size="7" font-weight="bold" text-anchor="end" transform="rotate(-90 78.96 312.9)" fill="#000" stroke="#000" stroke-width="0.06">50</text>
<line x1="85.1" y1="307.1" x2="85.1" y2="311.7" stroke="#111" stroke-width="1.1"/>
<text x="87" y="312.9" font-size="7" font-weight="bold" text-anchor="end" transform="rotate(-90 87 312.9)" fill="#000" stroke="#000" stroke-width="0.06">75</text>
<line x1="93.14" y1="307.1" x2="93.14" y2="311.7" stroke="#111" stroke-width="1.1"/>
<text x="95.04" y="312.9" font-size="7" font-weight="bold" text-anchor="end" transform="rotate(-90 95.04 312.9)" fill="#000" stroke="#000" stroke-width="0.06">100</text>
<line x1="101.18" y1="307.1" x2="101.18" y2="311.7" stroke="#111" stroke-width="1.1"/>
<text x="103.08" y="312.9" font-size="7" font-weight="bold" text-anchor="end" transform="rotate(-90 103.08 312.9)" fill="#000" stroke="#000" stroke-width="0.06">125</text>
<line x1="115.74" y1="307.1" x2="115.74" y2="311.7" stroke="#111" stroke-width="1.1"/>
<text x="117.64" y="312.9" font-size="7" font-weight="bold" text-anchor="end" transform="rotate(-90 117.64 312.9)" fill="#000" stroke="#000" stroke-width="0.06">0</text>
<line x1="123.78" y1="307.1" x2="123.78" y2="311.7" stroke="#111" stroke-width="1.1"/>
<text x="125.68" y="312.9" font-size="7" font-weight="bold" text-anchor="end" transform="rotate(-90 125.68 312.9)" fill="#000" stroke="#000" stroke-width="0.06">1</text>
<line x1="131.82" y1="307.1" x2="131.82" y2="311.7" stroke="#111" stroke-width="1.1"/>
<text x="133.72" y="312.9" font-size="7" font-weight="bold" text-anchor="end" transform="rotate(-90 133.72 312.9)" fill="#000" stroke="#000" stroke-width="0.06">10</text>
<line x1="139.86" y1="307.1" x2="139.86" y2="311.7" stroke="#111" stroke-width="1.1"/>
<text x="141.76" y="312.9" font-size="7" font-weight="bold" text-anchor="end" transform="rotate(-90 141.76 312.9)" fill="#000" stroke="#000" stroke-width="0.06">25</text>
<line x1="147.9" y1="307.1" x2="147.9" y2="311.7" stroke="#111" stroke-width="1.1"/>
<text x="149.8" y="312.9" font-size="7" font-weight="bold" text-anchor="end" transform="rotate(-90 149.8 312.9)" fill="#000" stroke="#000" stroke-width="0.06">50</text>
<line x1="155.94" y1="307.1" x2="155.94" y2="311.7" stroke="#111" stroke-width="1.1"/>
<text x="157.84" y="312.9" font-size="7" font-weight="bold" text-anchor="end" transform="rotate(-90 157.84 312.9)" fill="#000" stroke="#000" stroke-width="0.06">75</text>
<line x1="163.98" y1="307.1" x2="163.98" y2="311.7" stroke="#111" stroke-width="1.1"/>
<text x="165.88" y="312.9" font-size="7" font-weight="bold" text-anchor="end" transform="rotate(-90 165.88 312.9)" fill="#000" stroke="#000" stroke-width="0.06">100</text>
<line x1="172.02" y1="307.1" x2="172.02" y2="311.7" stroke="#111" stroke-width="1.1"/>
<text x="173.92" y="312.9" font-size="7" font-weight="bold" text-anchor="end" transform="rotate(-90 173.92 312.9)" fill="#000" stroke="#000" stroke-width="0.06">125</text>
<line x1="186.58" y1="307.1" x2="186.58" y2="311.7" stroke="#111" stroke-width="1.1"/>
<text x="188.48" y="312.9" font-size="7" font-weight="bold" text-anchor="end" transform="rotate(-90 188.48 312.9)" fill="#000" stroke="#000" stroke-width="0.06">0</text>
<line x1="194.62" y1="307.1" x2="194.62" y2="311.7" stroke="#111" stroke-width="1.1"/>
<text x="196.52" y="312.9" font-size="7" font-weight="bold" text-anchor="end" transform="rotate(-90 196.52 312.9)" fill="#000" stroke="#000" stroke-width="0.06">1</text>
<line x1="202.66" y1="307.1" x2="202.66" y2="311.7" stroke="#111" stroke-width="1.1"/>
<text x="204.56" y="312.9" font-size="7" font-weight="bold" text-anchor="end" transform="rotate(-90 204.56 312.9)" fill="#000" stroke="#000" stroke-width="0.06">10</text>
<line x1="210.7" y1="307.1" x2="210.7" y2="311.7" stroke="#111" stroke-width="1.1"/>
<text x="212.6" y="312.9" font-size="7" font-weight="bold" text-anchor="end" transform="rotate(-90 212.6 312.9)" fill="#000" stroke="#000" stroke-width="0.06">25</text>
<line x1="218.74" y1="307.1" x2="218.74" y2="311.7" stroke="#111" stroke-width="1.1"/>
<text x="220.64" y="312.9" font-size="7" font-weight="bold" text-anchor="end" transform="rotate(-90 220.64 312.9)" fill="#000" stroke="#000" stroke-width="0.06">50</text>
<line x1="226.78" y1="307.1" x2="226.78" y2="311.7" stroke="#111" stroke-width="1.1"/>
<text x="228.68" y="312.9" font-size="7" font-weight="bold" text-anchor="end" transform="rotate(-90 228.68 312.9)" fill="#000" stroke="#000" stroke-width="0.06">75</text>
<line x1="234.82" y1="307.1" x2="234.82" y2="311.7" stroke="#111" stroke-width="1.1"/>
<text x="236.72" y="312.9" font-size="7" font-weight="bold" text-anchor="end" transform="rotate(-90 236.72 312.9)" fill="#000" stroke="#000" stroke-width="0.06">100</text>
<line x1="242.86" y1="307.1" x2="242.86" y2="311.7" stroke="#111" stroke-width="1.1"/>
<text x="244.76" y="312.9" font-size="7" font-weight="bold" text-anchor="end" transform="rotate(-90 244.76 312.9)" fill="#000" stroke="#000" stroke-width="0.06">125</text>
<line x1="257.42" y1="307.1" x2="257.42" y2="311.7" stroke="#111" stroke-width="1.1"/>
<text x="259.32" y="312.9" font-size="7" font-weight="bold" text-anchor="end" transform="rotate(-90 259.32 312.9)" fill="#000" stroke="#000" stroke-width="0.06">0</text>
<line x1="265.46" y1="307.1" x2="265.46" y2="311.7" stroke="#111" stroke-width="1.1"/>
<text x="267.36" y="312.9" font-size="7" font-weight="bold" text-anchor="end" transform="rotate(-90 267.36 312.9)" fill="#000" stroke="#000" stroke-width="0.06">1</text>
<line x1="273.5" y1="307.1" x2="273.5" y2="311.7" stroke="#111" stroke-width="1.1"/>
<text x="275.4" y="312.9" font-size="7" font-weight="bold" text-anchor="end" transform="rotate(-90 275.4 312.9)" fill="#000" stroke="#000" stroke-width="0.06">10</text>
<line x1="281.54" y1="307.1" x2="281.54" y2="311.7" stroke="#111" stroke-width="1.1"/>
<text x="283.44" y="312.9" font-size="7" font-weight="bold" text-anchor="end" transform="rotate(-90 283.44 312.9)" fill="#000" stroke="#000" stroke-width="0.06">25</text>
<line x1="289.58" y1="307.1" x2="289.58" y2="311.7" stroke="#111" stroke-width="1.1"/>
<text x="291.48" y="312.9" font-size="7" font-weight="bold" text-anchor="end" transform="rotate(-90 291.48 312.9)" fill="#000" stroke="#000" stroke-width="0.06">50</text>
<line x1="297.62" y1="307.1" x2="297.62" y2="311.7" stroke="#111" stroke-width="1.1"/>
<text x="299.52" y="312.9" font-size="7" font-weight="bold" text-anchor="end" transform="rotate(-90 299.52 312.9)" fill="#000" stroke="#000" stroke-width="0.06">75</text>
<line x1="305.66" y1="307.1" x2="305.66" y2="311.7" stroke="#111" stroke-width="1.1"/>
<text x="307.56" y="312.9" font-size="7" font-weight="bold" text-anchor="end" transform="rotate(-90 307.56 312.9)" fill="#000" stroke="#000" stroke-width="0.06">100</text>
<line x1="313.7" y1="307.1" x2="313.7" y2="311.7" stroke="#111" stroke-width="1.1"/>
<text x="315.6" y="312.9" font-size="7" font-weight="bold" text-anchor="end" transform="rotate(-90 315.6 312.9)" fill="#000" stroke="#000" stroke-width="0.06">125</text>
<text x="111.5" y="189.5" font-size="10.15" font-weight="bold" text-anchor="start" fill="#000">Membrane potential change</text>
<text x="323.7" y="188.9" font-size="17" font-weight="bold" text-anchor="start" fill="#000">(b)</text>
<text x="14.1" y="254.8" font-size="8.5" font-weight="bold" text-anchor="middle" transform="rotate(-90 14.1 254.8)">Normalized MFI of DiOC<tspan font-size="6" dy="2">6</tspan><tspan dy="-2">, %</tspan></text>
<text x="119.3" y="341.1" font-size="13.2" text-anchor="start" fill="#000">Concentration, mg/L</text>
<line x1="36.6" y1="470.3" x2="317.8" y2="470.3" stroke="#8a8a8a" stroke-width="1"/>
<line x1="36.6" y1="457.4" x2="317.8" y2="457.4" stroke="#8a8a8a" stroke-width="1"/>
<line x1="36.6" y1="444.5" x2="317.8" y2="444.5" stroke="#8a8a8a" stroke-width="1"/>
<line x1="36.6" y1="431.6" x2="317.8" y2="431.6" stroke="#8a8a8a" stroke-width="1"/>
<line x1="36.6" y1="418.7" x2="317.8" y2="418.7" stroke="#8a8a8a" stroke-width="1"/>
<line x1="36.6" y1="402.3" x2="317.8" y2="402.3" stroke="#8a8a8a" stroke-width="1"/>
<line x1="36.6" y1="394.85" x2="317.8" y2="394.85" stroke="#8a8a8a" stroke-width="1"/>
<line x1="36.6" y1="387.4" x2="317.8" y2="387.4" stroke="#8a8a8a" stroke-width="1"/>
<line x1="36.6" y1="379.95" x2="317.8" y2="379.95" stroke="#8a8a8a" stroke-width="1"/>
<rect x="40.12" y="432" width="5.15" height="51.2" fill="#00a266" stroke="#222" stroke-width="0.6"/>
<path d="M42.7 419.4V444.6M41.4 419.4H44M41.4 444.6H44" stroke="#333" stroke-width="0.7" fill="none"/>
<rect x="48.16" y="448.7" width="5.15" height="34.5" fill="#00a266" stroke="#222" stroke-width="0.6"/>
<path d="M50.74 442.7V454.7M49.44 442.7H52.04M49.44 454.7H52.04" stroke="#333" stroke-width="0.7" fill="none"/>
<rect x="56.2" y="429.2" width="5.15" height="54" fill="#00a266" stroke="#222" stroke-width="0.6"/>
<path d="M58.78 427.1V431.3M57.48 427.1H60.08M57.48 431.3H60.08" stroke="#333" stroke-width="0.7" fill="none"/>
<rect x="64.24" y="416" width="5.15" height="67.2" fill="#00a266" stroke="#222" stroke-width="0.6"/>
<rect x="64.24" y="388" width="5.15" height="19.7" fill="#00a266" stroke="#222" stroke-width="0.6"/>
<path d="M66.82 384.4V391.6M65.52 384.4H68.12M65.52 391.6H68.12" stroke="#333" stroke-width="0.7" fill="none"/>
<rect x="72.28" y="416" width="5.15" height="67.2" fill="#00a266" stroke="#222" stroke-width="0.6"/>
<rect x="72.28" y="390.6" width="5.15" height="17.1" fill="#00a266" stroke="#222" stroke-width="0.6"/>
<path d="M74.86 389.8V391.4M73.56 389.8H76.16M73.56 391.4H76.16" stroke="#333" stroke-width="0.7" fill="none"/>
<rect x="80.33" y="416" width="5.15" height="67.2" fill="#00a266" stroke="#222" stroke-width="0.6"/>
<rect x="80.33" y="396.5" width="5.15" height="11.2" fill="#00a266" stroke="#222" stroke-width="0.6"/>
<path d="M82.9 389.8V403.2M81.6 389.8H84.2M81.6 403.2H84.2" stroke="#333" stroke-width="0.7" fill="none"/>
<rect x="111.08" y="431.7" width="5.15" height="51.5" fill="#ee0868" stroke="#222" stroke-width="0.6"/>
<path d="M113.65 430.9V432.5M112.35 430.9H114.95M112.35 432.5H114.95" stroke="#333" stroke-width="0.7" fill="none"/>
<rect x="119.11" y="430.7" width="5.15" height="52.5" fill="#ee0868" stroke="#222" stroke-width="0.6"/>
<path d="M121.69 428.4V433M120.39 428.4H122.99M120.39 433H122.99" stroke="#333" stroke-width="0.7" fill="none"/>
<rect x="127.16" y="440" width="5.15" height="43.2" fill="#ee0868" stroke="#222" stroke-width="0.6"/>
<path d="M129.73 436.4V443.6M128.43 436.4H131.03M128.43 443.6H131.03" stroke="#333" stroke-width="0.7" fill="none"/>
<rect x="135.2" y="440.5" width="5.15" height="42.7" fill="#ee0868" stroke="#222" stroke-width="0.6"/>
<path d="M137.77 439.9V441.1M136.47 439.9H139.07M136.47 441.1H139.07" stroke="#333" stroke-width="0.7" fill="none"/>
<rect x="143.24" y="432.7" width="5.15" height="50.5" fill="#ee0868" stroke="#222" stroke-width="0.6"/>
<path d="M145.81 429.4V436M144.51 429.4H147.11M144.51 436H147.11" stroke="#333" stroke-width="0.7" fill="none"/>
<rect x="151.28" y="441.7" width="5.15" height="41.5" fill="#ee0868" stroke="#222" stroke-width="0.6"/>
<path d="M153.85 439.9V443.5M152.55 439.9H155.15M152.55 443.5H155.15" stroke="#333" stroke-width="0.7" fill="none"/>
<rect x="159.31" y="438.3" width="5.15" height="44.9" fill="#ee0868" stroke="#222" stroke-width="0.6"/>
<path d="M161.89 435.4V441.2M160.59 435.4H163.19M160.59 441.2H163.19" stroke="#333" stroke-width="0.7" fill="none"/>
<rect x="167.36" y="432.7" width="5.15" height="50.5" fill="#ee0868" stroke="#222" stroke-width="0.6"/>
<path d="M169.93 430.4V435M168.63 430.4H171.23M168.63 435H171.23" stroke="#333" stroke-width="0.7" fill="none"/>
<rect x="182.03" y="432" width="5.15" height="51.2" fill="#0782a0" stroke="#222" stroke-width="0.6"/>
<path d="M184.6 431.1V432.9M183.3 431.1H185.9M183.3 432.9H185.9" stroke="#333" stroke-width="0.7" fill="none"/>
<rect x="190.07" y="433.5" width="5.15" height="49.7" fill="#0782a0" stroke="#222" stroke-width="0.6"/>
<path d="M192.64 431.9V435.1M191.34 431.9H193.94M191.34 435.1H193.94" stroke="#333" stroke-width="0.7" fill="none"/>
<rect x="198.11" y="433.7" width="5.15" height="49.5" fill="#0782a0" stroke="#222" stroke-width="0.6"/>
<path d="M200.68 430.9V436.5M199.38 430.9H201.98M199.38 436.5H201.98" stroke="#333" stroke-width="0.7" fill="none"/>
<rect x="206.15" y="434" width="5.15" height="49.2" fill="#0782a0" stroke="#222" stroke-width="0.6"/>
<path d="M208.72 433.4V434.6M207.42 433.4H210.02M207.42 434.6H210.02" stroke="#333" stroke-width="0.7" fill="none"/>
<rect x="214.19" y="440.5" width="5.15" height="42.7" fill="#0782a0" stroke="#222" stroke-width="0.6"/>
<path d="M216.76 439.9V441.1M215.46 439.9H218.06M215.46 441.1H218.06" stroke="#333" stroke-width="0.7" fill="none"/>
<rect x="222.23" y="444.7" width="5.15" height="38.5" fill="#0782a0" stroke="#222" stroke-width="0.6"/>
<path d="M224.8 443.9V445.5M223.5 443.9H226.1M223.5 445.5H226.1" stroke="#333" stroke-width="0.7" fill="none"/>
<rect x="230.27" y="440" width="5.15" height="43.2" fill="#0782a0" stroke="#222" stroke-width="0.6"/>
<path d="M232.84 439.4V440.6M231.54 439.4H234.14M231.54 440.6H234.14" stroke="#333" stroke-width="0.7" fill="none"/>
<rect x="238.31" y="442" width="5.15" height="41.2" fill="#0782a0" stroke="#222" stroke-width="0.6"/>
<path d="M240.88 440.4V443.6M239.58 440.4H242.18M239.58 443.6H242.18" stroke="#333" stroke-width="0.7" fill="none"/>
<rect x="252.98" y="431.7" width="5.15" height="51.5" fill="#da964a" stroke="#222" stroke-width="0.6"/>
<path d="M255.55 430.9V432.5M254.25 430.9H256.85M254.25 432.5H256.85" stroke="#333" stroke-width="0.7" fill="none"/>
<rect x="261.02" y="437" width="5.15" height="46.2" fill="#da964a" stroke="#222" stroke-width="0.6"/>
<path d="M263.59 435.4V438.6M262.29 435.4H264.89M262.29 438.6H264.89" stroke="#333" stroke-width="0.7" fill="none"/>
<rect x="269.06" y="436.7" width="5.15" height="46.5" fill="#da964a" stroke="#222" stroke-width="0.6"/>
<path d="M271.63 433.4V440M270.33 433.4H272.93M270.33 440H272.93" stroke="#333" stroke-width="0.7" fill="none"/>
<rect x="277.1" y="436.7" width="5.15" height="46.5" fill="#da964a" stroke="#222" stroke-width="0.6"/>
<path d="M279.67 436.4V437M278.37 436.4H280.97M278.37 437H280.97" stroke="#333" stroke-width="0.7" fill="none"/>
<rect x="285.14" y="440" width="5.15" height="43.2" fill="#da964a" stroke="#222" stroke-width="0.6"/>
<path d="M287.71 439.1V440.9M286.41 439.1H289.01M286.41 440.9H289.01" stroke="#333" stroke-width="0.7" fill="none"/>
<rect x="293.18" y="451" width="5.15" height="32.2" fill="#da964a" stroke="#222" stroke-width="0.6"/>
<path d="M295.75 450.4V451.6M294.45 450.4H297.05M294.45 451.6H297.05" stroke="#333" stroke-width="0.7" fill="none"/>
<rect x="301.22" y="458.7" width="5.15" height="24.5" fill="#da964a" stroke="#222" stroke-width="0.6"/>
<path d="M303.79 457.9V459.5M302.49 457.9H305.09M302.49 459.5H305.09" stroke="#333" stroke-width="0.7" fill="none"/>
<rect x="309.25" y="456.2" width="5.15" height="27" fill="#da964a" stroke="#222" stroke-width="0.6"/>
<path d="M311.83 452.1V460.3M310.53 452.1H313.13M310.53 460.3H313.13" stroke="#333" stroke-width="0.7" fill="none"/>
<path d="M64.82 445.6H69.62M65.92 443.6L68.52 447.6M65.92 447.6L68.52 443.6" stroke="#000" stroke-width="1.0" fill="none"/>
<path d="M64.82 440.4H69.62M65.92 438.4L68.52 442.4M65.92 442.4L68.52 438.4" stroke="#000" stroke-width="1.0" fill="none"/>
<path d="M64.82 435.2H69.62M65.92 433.2L68.52 437.2M65.92 437.2L68.52 433.2" stroke="#000" stroke-width="1.0" fill="none"/>
<path d="M72.86 445.6H77.66M73.96 443.6L76.56 447.6M73.96 447.6L76.56 443.6" stroke="#000" stroke-width="1.0" fill="none"/>
<path d="M72.86 440.4H77.66M73.96 438.4L76.56 442.4M73.96 442.4L76.56 438.4" stroke="#000" stroke-width="1.0" fill="none"/>
<path d="M72.86 435.2H77.66M73.96 433.2L76.56 437.2M73.96 437.2L76.56 433.2" stroke="#000" stroke-width="1.0" fill="none"/>
<path d="M80.9 445.6H85.7M82 443.6L84.6 447.6M82 447.6L84.6 443.6" stroke="#000" stroke-width="1.0" fill="none"/>
<path d="M80.9 440.4H85.7M82 438.4L84.6 442.4M82 442.4L84.6 438.4" stroke="#000" stroke-width="1.0" fill="none"/>
<path d="M80.9 435.2H85.7M82 433.2L84.6 437.2M82 437.2L84.6 433.2" stroke="#000" stroke-width="1.0" fill="none"/>
<path d="M214.76 471H219.56M215.86 469L218.46 473M215.86 473L218.46 469" stroke="#000" stroke-width="1.0" fill="none"/>
<path d="M214.76 465.8H219.56M215.86 463.8L218.46 467.8M215.86 467.8L218.46 463.8" stroke="#000" stroke-width="1.0" fill="none"/>
<path d="M214.76 460.6H219.56M215.86 458.6L218.46 462.6M215.86 462.6L218.46 458.6" stroke="#000" stroke-width="1.0" fill="none"/>
<path d="M214.76 455.4H219.56M215.86 453.4L218.46 457.4M215.86 457.4L218.46 453.4" stroke="#000" stroke-width="1.0" fill="none"/>
<path d="M222.8 472.6H227.6M223.9 470.6L226.5 474.6M223.9 474.6L226.5 470.6" stroke="#000" stroke-width="1.0" fill="none"/>
<path d="M222.8 467.4H227.6M223.9 465.4L226.5 469.4M223.9 469.4L226.5 465.4" stroke="#000" stroke-width="1.0" fill="none"/>
<path d="M222.8 462.2H227.6M223.9 460.2L226.5 464.2M223.9 464.2L226.5 460.2" stroke="#000" stroke-width="1.0" fill="none"/>
<path d="M222.8 457H227.6M223.9 455L226.5 459M223.9 459L226.5 455" stroke="#000" stroke-width="1.0" fill="none"/>
<path d="M230.84 469.8H235.64M231.94 467.8L234.54 471.8M231.94 471.8L234.54 467.8" stroke="#000" stroke-width="1.0" fill="none"/>
<path d="M230.84 464.6H235.64M231.94 462.6L234.54 466.6M231.94 466.6L234.54 462.6" stroke="#000" stroke-width="1.0" fill="none"/>
<path d="M230.84 459.4H235.64M231.94 457.4L234.54 461.4M231.94 461.4L234.54 457.4" stroke="#000" stroke-width="1.0" fill="none"/>
<path d="M230.84 454.2H235.64M231.94 452.2L234.54 456.2M231.94 456.2L234.54 452.2" stroke="#000" stroke-width="1.0" fill="none"/>
<path d="M238.88 470.9H243.68M239.98 468.9L242.58 472.9M239.98 472.9L242.58 468.9" stroke="#000" stroke-width="1.0" fill="none"/>
<path d="M238.88 465.7H243.68M239.98 463.7L242.58 467.7M239.98 467.7L242.58 463.7" stroke="#000" stroke-width="1.0" fill="none"/>
<path d="M238.88 460.5H243.68M239.98 458.5L242.58 462.5M239.98 462.5L242.58 458.5" stroke="#000" stroke-width="1.0" fill="none"/>
<path d="M238.88 455.3H243.68M239.98 453.3L242.58 457.3M239.98 457.3L242.58 453.3" stroke="#000" stroke-width="1.0" fill="none"/>
<path d="M277.67 464.3H282.47M278.77 462.3L281.37 466.3M278.77 466.3L281.37 462.3" stroke="#000" stroke-width="1.0" fill="none"/>
<path d="M277.67 459.1H282.47M278.77 457.1L281.37 461.1M278.77 461.1L281.37 457.1" stroke="#000" stroke-width="1.0" fill="none"/>
<path d="M285.71 471.8H290.51M286.81 469.8L289.41 473.8M286.81 473.8L289.41 469.8" stroke="#000" stroke-width="1.0" fill="none"/>
<path d="M285.71 466.6H290.51M286.81 464.6L289.41 468.6M286.81 468.6L289.41 464.6" stroke="#000" stroke-width="1.0" fill="none"/>
<path d="M285.71 461.4H290.51M286.81 459.4L289.41 463.4M286.81 463.4L289.41 459.4" stroke="#000" stroke-width="1.0" fill="none"/>
<path d="M285.71 456.2H290.51M286.81 454.2L289.41 458.2M286.81 458.2L289.41 454.2" stroke="#000" stroke-width="1.0" fill="none"/>
<path d="M293.75 475.8H298.55M294.85 473.8L297.45 477.8M294.85 477.8L297.45 473.8" stroke="#000" stroke-width="1.0" fill="none"/>
<path d="M293.75 470.6H298.55M294.85 468.6L297.45 472.6M294.85 472.6L297.45 468.6" stroke="#000" stroke-width="1.0" fill="none"/>
<path d="M293.75 465.4H298.55M294.85 463.4L297.45 467.4M294.85 467.4L297.45 463.4" stroke="#000" stroke-width="1.0" fill="none"/>
<path d="M293.75 460.2H298.55M294.85 458.2L297.45 462.2M294.85 462.2L297.45 458.2" stroke="#000" stroke-width="1.0" fill="none"/>
<path d="M301.79 480.4H306.59M302.89 478.4L305.49 482.4M302.89 482.4L305.49 478.4" stroke="#000" stroke-width="1.0" fill="none"/>
<path d="M301.79 475.2H306.59M302.89 473.2L305.49 477.2M302.89 477.2L305.49 473.2" stroke="#000" stroke-width="1.0" fill="none"/>
<path d="M301.79 470H306.59M302.89 468L305.49 472M302.89 472L305.49 468" stroke="#000" stroke-width="1.0" fill="none"/>
<path d="M301.79 464.8H306.59M302.89 462.8L305.49 466.8M302.89 466.8L305.49 462.8" stroke="#000" stroke-width="1.0" fill="none"/>
<path d="M309.83 478.7H314.63M310.93 476.7L313.53 480.7M310.93 480.7L313.53 476.7" stroke="#000" stroke-width="1.0" fill="none"/>
<path d="M309.83 473.5H314.63M310.93 471.5L313.53 475.5M310.93 475.5L313.53 471.5" stroke="#000" stroke-width="1.0" fill="none"/>
<path d="M309.83 468.3H314.63M310.93 466.3L313.53 470.3M310.93 470.3L313.53 466.3" stroke="#000" stroke-width="1.0" fill="none"/>
<path d="M309.83 463.1H314.63M310.93 461.1L313.53 465.1M310.93 465.1L313.53 461.1" stroke="#000" stroke-width="1.0" fill="none"/>
<line x1="32" y1="483.2" x2="317.8" y2="483.2" stroke="#111" stroke-width="1.2"/>
<line x1="36.6" y1="378.5" x2="36.6" y2="406.9" stroke="#111" stroke-width="1.3"/>
<line x1="36.6" y1="416.2" x2="36.6" y2="483.2" stroke="#111" stroke-width="1.3"/>
<line x1="32" y1="483.2" x2="36.6" y2="483.2" stroke="#111" stroke-width="1.1"/>
<text x="31.4" y="486.4" font-size="8.3" font-weight="bold" text-anchor="end" fill="#000" stroke="#000" stroke-width="0.08">0</text>
<line x1="32" y1="470.3" x2="36.6" y2="470.3" stroke="#111" stroke-width="1.1"/>
<text x="31.4" y="473.5" font-size="8.3" font-weight="bold" text-anchor="end" fill="#000" stroke="#000" stroke-width="0.08">25</text>
<line x1="32" y1="457.4" x2="36.6" y2="457.4" stroke="#111" stroke-width="1.1"/>
<text x="31.4" y="460.6" font-size="8.3" font-weight="bold" text-anchor="end" fill="#000" stroke="#000" stroke-width="0.08">50</text>
<line x1="32" y1="444.5" x2="36.6" y2="444.5" stroke="#111" stroke-width="1.1"/>
<text x="31.4" y="447.7" font-size="8.3" font-weight="bold" text-anchor="end" fill="#000" stroke="#000" stroke-width="0.08">75</text>
<line x1="32" y1="431.6" x2="36.6" y2="431.6" stroke="#111" stroke-width="1.1"/>
<text x="31.4" y="434.8" font-size="8.3" font-weight="bold" text-anchor="end" fill="#000" stroke="#000" stroke-width="0.08">100</text>
<line x1="32" y1="418.7" x2="36.6" y2="418.7" stroke="#111" stroke-width="1.1"/>
<text x="31.4" y="421.9" font-size="8.3" font-weight="bold" text-anchor="end" fill="#000" stroke="#000" stroke-width="0.08">125</text>
<line x1="32" y1="402.3" x2="36.6" y2="402.3" stroke="#111" stroke-width="1.1"/>
<text x="31.4" y="405.5" font-size="8.3" font-weight="bold" text-anchor="end" fill="#000" stroke="#000" stroke-width="0.08">200</text>
<line x1="32" y1="394.85" x2="36.6" y2="394.85" stroke="#111" stroke-width="1.1"/>
<text x="31.4" y="398.05" font-size="8.3" font-weight="bold" text-anchor="end" fill="#000" stroke="#000" stroke-width="0.08">225</text>
<line x1="32" y1="387.4" x2="36.6" y2="387.4" stroke="#111" stroke-width="1.1"/>
<text x="31.4" y="390.6" font-size="8.3" font-weight="bold" text-anchor="end" fill="#000" stroke="#000" stroke-width="0.08">250</text>
<line x1="32" y1="379.95" x2="36.6" y2="379.95" stroke="#111" stroke-width="1.1"/>
<text x="31.4" y="383.15" font-size="8.3" font-weight="bold" text-anchor="end" fill="#000" stroke="#000" stroke-width="0.08">275</text>
<line x1="42.7" y1="483.2" x2="42.7" y2="487.8" stroke="#111" stroke-width="1.1"/>
<text x="44.6" y="489" font-size="7" font-weight="bold" text-anchor="end" transform="rotate(-90 44.6 489)" fill="#000" stroke="#000" stroke-width="0.06">0</text>
<line x1="50.74" y1="483.2" x2="50.74" y2="487.8" stroke="#111" stroke-width="1.1"/>
<text x="52.64" y="489" font-size="7" font-weight="bold" text-anchor="end" transform="rotate(-90 52.64 489)" fill="#000" stroke="#000" stroke-width="0.06">1</text>
<line x1="58.78" y1="483.2" x2="58.78" y2="487.8" stroke="#111" stroke-width="1.1"/>
<text x="60.68" y="489" font-size="7" font-weight="bold" text-anchor="end" transform="rotate(-90 60.68 489)" fill="#000" stroke="#000" stroke-width="0.06">10</text>
<line x1="66.82" y1="483.2" x2="66.82" y2="487.8" stroke="#111" stroke-width="1.1"/>
<text x="68.72" y="489" font-size="7" font-weight="bold" text-anchor="end" transform="rotate(-90 68.72 489)" fill="#000" stroke="#000" stroke-width="0.06">25</text>
<line x1="74.86" y1="483.2" x2="74.86" y2="487.8" stroke="#111" stroke-width="1.1"/>
<text x="76.76" y="489" font-size="7" font-weight="bold" text-anchor="end" transform="rotate(-90 76.76 489)" fill="#000" stroke="#000" stroke-width="0.06">50</text>
<line x1="82.9" y1="483.2" x2="82.9" y2="487.8" stroke="#111" stroke-width="1.1"/>
<text x="84.8" y="489" font-size="7" font-weight="bold" text-anchor="end" transform="rotate(-90 84.8 489)" fill="#000" stroke="#000" stroke-width="0.06">75</text>
<line x1="90.94" y1="483.2" x2="90.94" y2="487.8" stroke="#111" stroke-width="1.1"/>
<text x="92.84" y="489" font-size="7" font-weight="bold" text-anchor="end" transform="rotate(-90 92.84 489)" fill="#000" stroke="#000" stroke-width="0.06">100</text>
<line x1="98.98" y1="483.2" x2="98.98" y2="487.8" stroke="#111" stroke-width="1.1"/>
<text x="100.88" y="489" font-size="7" font-weight="bold" text-anchor="end" transform="rotate(-90 100.88 489)" fill="#000" stroke="#000" stroke-width="0.06">125</text>
<line x1="113.65" y1="483.2" x2="113.65" y2="487.8" stroke="#111" stroke-width="1.1"/>
<text x="115.55" y="489" font-size="7" font-weight="bold" text-anchor="end" transform="rotate(-90 115.55 489)" fill="#000" stroke="#000" stroke-width="0.06">0</text>
<line x1="121.69" y1="483.2" x2="121.69" y2="487.8" stroke="#111" stroke-width="1.1"/>
<text x="123.59" y="489" font-size="7" font-weight="bold" text-anchor="end" transform="rotate(-90 123.59 489)" fill="#000" stroke="#000" stroke-width="0.06">1</text>
<line x1="129.73" y1="483.2" x2="129.73" y2="487.8" stroke="#111" stroke-width="1.1"/>
<text x="131.63" y="489" font-size="7" font-weight="bold" text-anchor="end" transform="rotate(-90 131.63 489)" fill="#000" stroke="#000" stroke-width="0.06">10</text>
<line x1="137.77" y1="483.2" x2="137.77" y2="487.8" stroke="#111" stroke-width="1.1"/>
<text x="139.67" y="489" font-size="7" font-weight="bold" text-anchor="end" transform="rotate(-90 139.67 489)" fill="#000" stroke="#000" stroke-width="0.06">25</text>
<line x1="145.81" y1="483.2" x2="145.81" y2="487.8" stroke="#111" stroke-width="1.1"/>
<text x="147.71" y="489" font-size="7" font-weight="bold" text-anchor="end" transform="rotate(-90 147.71 489)" fill="#000" stroke="#000" stroke-width="0.06">50</text>
<line x1="153.85" y1="483.2" x2="153.85" y2="487.8" stroke="#111" stroke-width="1.1"/>
<text x="155.75" y="489" font-size="7" font-weight="bold" text-anchor="end" transform="rotate(-90 155.75 489)" fill="#000" stroke="#000" stroke-width="0.06">75</text>
<line x1="161.89" y1="483.2" x2="161.89" y2="487.8" stroke="#111" stroke-width="1.1"/>
<text x="163.79" y="489" font-size="7" font-weight="bold" text-anchor="end" transform="rotate(-90 163.79 489)" fill="#000" stroke="#000" stroke-width="0.06">100</text>
<line x1="169.93" y1="483.2" x2="169.93" y2="487.8" stroke="#111" stroke-width="1.1"/>
<text x="171.83" y="489" font-size="7" font-weight="bold" text-anchor="end" transform="rotate(-90 171.83 489)" fill="#000" stroke="#000" stroke-width="0.06">125</text>
<line x1="184.6" y1="483.2" x2="184.6" y2="487.8" stroke="#111" stroke-width="1.1"/>
<text x="186.5" y="489" font-size="7" font-weight="bold" text-anchor="end" transform="rotate(-90 186.5 489)" fill="#000" stroke="#000" stroke-width="0.06">0</text>
<line x1="192.64" y1="483.2" x2="192.64" y2="487.8" stroke="#111" stroke-width="1.1"/>
<text x="194.54" y="489" font-size="7" font-weight="bold" text-anchor="end" transform="rotate(-90 194.54 489)" fill="#000" stroke="#000" stroke-width="0.06">1</text>
<line x1="200.68" y1="483.2" x2="200.68" y2="487.8" stroke="#111" stroke-width="1.1"/>
<text x="202.58" y="489" font-size="7" font-weight="bold" text-anchor="end" transform="rotate(-90 202.58 489)" fill="#000" stroke="#000" stroke-width="0.06">10</text>
<line x1="208.72" y1="483.2" x2="208.72" y2="487.8" stroke="#111" stroke-width="1.1"/>
<text x="210.62" y="489" font-size="7" font-weight="bold" text-anchor="end" transform="rotate(-90 210.62 489)" fill="#000" stroke="#000" stroke-width="0.06">25</text>
<line x1="216.76" y1="483.2" x2="216.76" y2="487.8" stroke="#111" stroke-width="1.1"/>
<text x="218.66" y="489" font-size="7" font-weight="bold" text-anchor="end" transform="rotate(-90 218.66 489)" fill="#000" stroke="#000" stroke-width="0.06">50</text>
<line x1="224.8" y1="483.2" x2="224.8" y2="487.8" stroke="#111" stroke-width="1.1"/>
<text x="226.7" y="489" font-size="7" font-weight="bold" text-anchor="end" transform="rotate(-90 226.7 489)" fill="#000" stroke="#000" stroke-width="0.06">75</text>
<line x1="232.84" y1="483.2" x2="232.84" y2="487.8" stroke="#111" stroke-width="1.1"/>
<text x="234.74" y="489" font-size="7" font-weight="bold" text-anchor="end" transform="rotate(-90 234.74 489)" fill="#000" stroke="#000" stroke-width="0.06">100</text>
<line x1="240.88" y1="483.2" x2="240.88" y2="487.8" stroke="#111" stroke-width="1.1"/>
<text x="242.78" y="489" font-size="7" font-weight="bold" text-anchor="end" transform="rotate(-90 242.78 489)" fill="#000" stroke="#000" stroke-width="0.06">125</text>
<line x1="255.55" y1="483.2" x2="255.55" y2="487.8" stroke="#111" stroke-width="1.1"/>
<text x="257.45" y="489" font-size="7" font-weight="bold" text-anchor="end" transform="rotate(-90 257.45 489)" fill="#000" stroke="#000" stroke-width="0.06">0</text>
<line x1="263.59" y1="483.2" x2="263.59" y2="487.8" stroke="#111" stroke-width="1.1"/>
<text x="265.49" y="489" font-size="7" font-weight="bold" text-anchor="end" transform="rotate(-90 265.49 489)" fill="#000" stroke="#000" stroke-width="0.06">1</text>
<line x1="271.63" y1="483.2" x2="271.63" y2="487.8" stroke="#111" stroke-width="1.1"/>
<text x="273.53" y="489" font-size="7" font-weight="bold" text-anchor="end" transform="rotate(-90 273.53 489)" fill="#000" stroke="#000" stroke-width="0.06">10</text>
<line x1="279.67" y1="483.2" x2="279.67" y2="487.8" stroke="#111" stroke-width="1.1"/>
<text x="281.57" y="489" font-size="7" font-weight="bold" text-anchor="end" transform="rotate(-90 281.57 489)" fill="#000" stroke="#000" stroke-width="0.06">25</text>
<line x1="287.71" y1="483.2" x2="287.71" y2="487.8" stroke="#111" stroke-width="1.1"/>
<text x="289.61" y="489" font-size="7" font-weight="bold" text-anchor="end" transform="rotate(-90 289.61 489)" fill="#000" stroke="#000" stroke-width="0.06">50</text>
<line x1="295.75" y1="483.2" x2="295.75" y2="487.8" stroke="#111" stroke-width="1.1"/>
<text x="297.65" y="489" font-size="7" font-weight="bold" text-anchor="end" transform="rotate(-90 297.65 489)" fill="#000" stroke="#000" stroke-width="0.06">75</text>
<line x1="303.79" y1="483.2" x2="303.79" y2="487.8" stroke="#111" stroke-width="1.1"/>
<text x="305.69" y="489" font-size="7" font-weight="bold" text-anchor="end" transform="rotate(-90 305.69 489)" fill="#000" stroke="#000" stroke-width="0.06">100</text>
<line x1="311.83" y1="483.2" x2="311.83" y2="487.8" stroke="#111" stroke-width="1.1"/>
<text x="313.73" y="489" font-size="7" font-weight="bold" text-anchor="end" transform="rotate(-90 313.73 489)" fill="#000" stroke="#000" stroke-width="0.06">125</text>
<text x="119.8" y="365.1" font-size="10.15" font-weight="bold" text-anchor="start" fill="#000">ROS generation change</text>
<text x="322.1" y="358.5" font-size="17" font-weight="bold" text-anchor="start" fill="#000">(c)</text>
<text x="12.4" y="431" font-size="8.5" font-weight="bold" text-anchor="middle" transform="rotate(-90 12.4 431)">Normalized MFI of H<tspan font-size="6" dy="2">2</tspan><tspan dy="-2">DCFDA</tspan></text>
<text x="117.2" y="517.9" font-size="13.2" text-anchor="start" fill="#000">Concentration, mg/L</text>
<path d="M36.6 406.9L39.5 411.6M33.5 412.6L37.1 416.8" stroke="#111" stroke-width="1.4" fill="none"/>
<rect x="65.2" y="533.8" width="10.6" height="10.4" fill="#00a266" stroke="#222" stroke-width="0.7"/>
<text x="83" y="543.9" font-size="14" text-anchor="start" fill="#000">CNTs</text>
<rect x="127.9" y="533.8" width="10.6" height="10.4" fill="#ee0868" stroke="#222" stroke-width="0.7"/>
<text x="144.6" y="543.9" font-size="14" text-anchor="start" fill="#000">C60</text>
<rect x="183.4" y="533.8" width="10.6" height="10.4" fill="#0782a0" stroke="#222" stroke-width="0.7"/>
<text x="200.8" y="543.9" font-size="14" text-anchor="start" fill="#000">Gr</text>
<rect x="229.3" y="533.8" width="10.6" height="10.4" fill="#da964a" stroke="#222" stroke-width="0.7"/>
<text x="246.5" y="543.9" font-size="14" text-anchor="start" fill="#000">GrO</text></svg>
</body></html>
